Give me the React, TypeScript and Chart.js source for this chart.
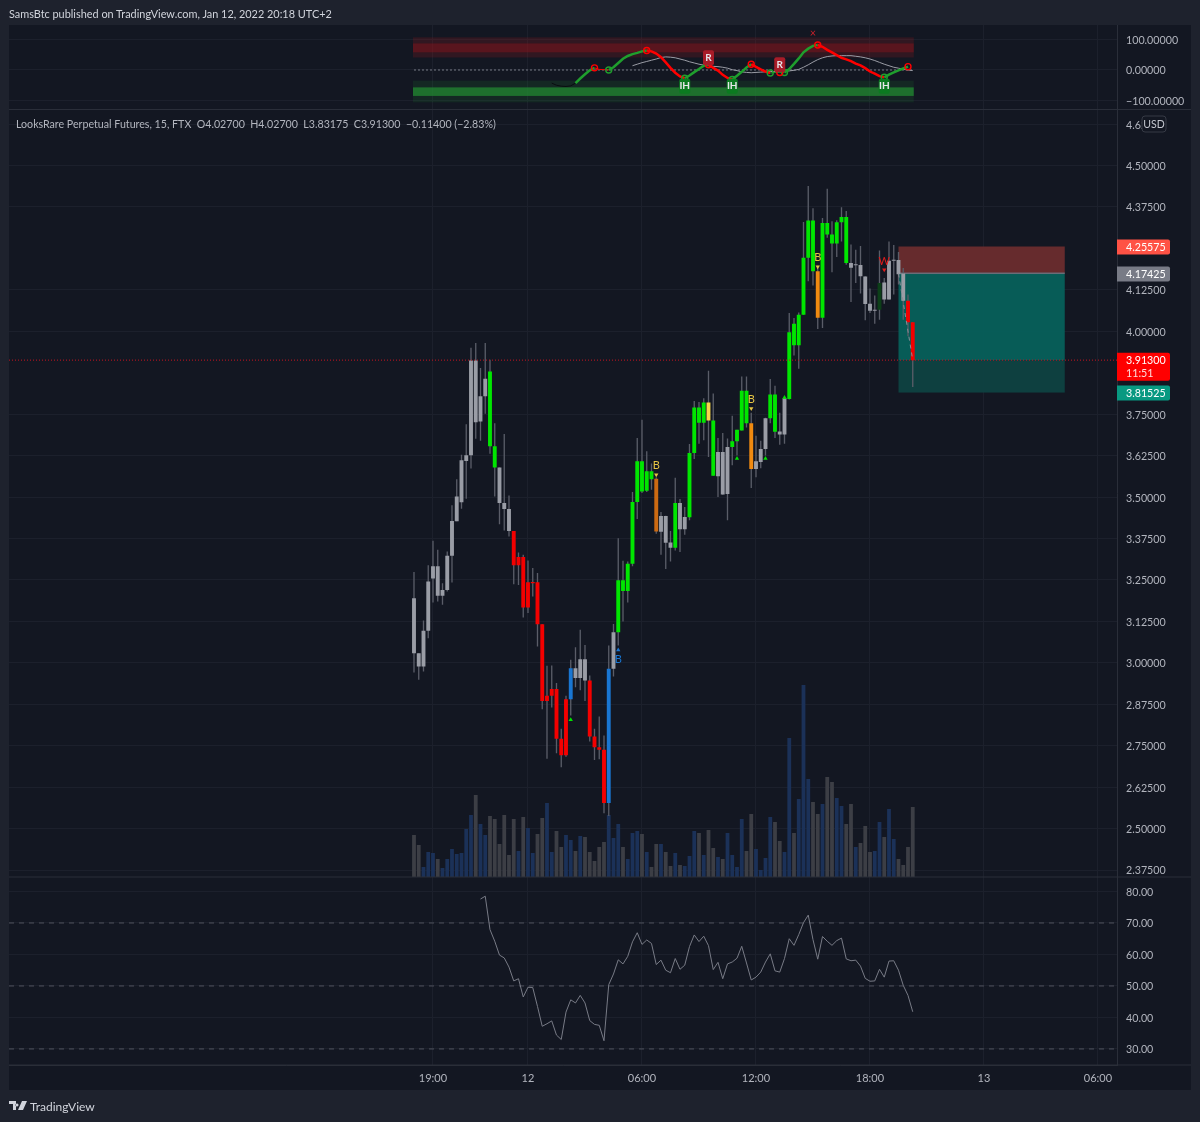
import { useEffect, useRef } from 'react';
import { Chart, Plugin, registerables } from 'chart.js';

Chart.register(...registerables);

const FONT = 'Lato, "Noto Sans", sans-serif';

// 15 minute bars, index 0 is the first candle
const opens = [3.195, 3.029, 2.989, 3.097, 3.254, 3.291, 3.202, 3.22, 3.323, 3.427, 3.484, 3.609, 3.626, 3.912, 3.728, 3.804, 3.879, 3.653, 3.589, 3.482, 3.464, 3.398, 3.294, 3.319, 3.167, 3.24, 3.243, 3.116, 2.885, 2.901, 2.921, 2.771, 2.721, 2.89, 2.984, 2.954, 3.011, 2.947, 2.778, 2.745, 2.738, 2.577, 2.982, 3.092, 3.249, 3.217, 3.299, 3.485, 3.608, 3.519, 3.578, 3.555, 3.395, 3.443, 3.363, 3.347, 3.482, 3.403, 3.439, 3.633, 3.77, 3.724, 3.785, 3.731, 3.563, 3.636, 3.509, 3.651, 3.668, 3.701, 3.821, 3.723, 3.585, 3.606, 3.645, 3.738, 3.809, 3.698, 3.689, 3.796, 4.023, 3.958, 4.05, 4.222, 4.334, 4.181, 4.041, 4.327, 4.292, 4.265, 4.329, 4.345, 4.206, 4.199, 4.2, 4.165, 4.083, 4.062, 4.065, 4.147, 4.096, 4.213, 4.215, 4.174, 4.092, 4.027];
const highs = [3.274, 3.029, 3.128, 3.294, 3.368, 3.341, 3.24, 3.336, 3.475, 3.554, 3.628, 3.72, 3.95, 3.965, 3.889, 3.965, 3.914, 3.723, 3.589, 3.69, 3.505, 3.398, 3.333, 3.326, 3.309, 3.286, 3.271, 3.116, 2.991, 2.992, 2.939, 2.801, 2.901, 3.009, 3.047, 3.1, 3.054, 2.962, 2.801, 2.838, 2.781, 3.052, 3.117, 3.376, 3.308, 3.306, 3.515, 3.678, 3.733, 3.638, 3.601, 3.56, 3.455, 3.444, 3.398, 3.558, 3.494, 3.47, 3.66, 3.79, 3.787, 3.798, 3.881, 3.812, 3.678, 3.693, 3.677, 3.745, 3.703, 3.864, 3.864, 3.754, 3.685, 3.67, 3.739, 3.856, 3.836, 3.754, 3.802, 4.055, 4.04, 4.057, 4.33, 4.438, 4.371, 4.198, 4.342, 4.43, 4.332, 4.335, 4.374, 4.363, 4.262, 4.246, 4.257, 4.166, 4.129, 4.108, 4.244, 4.161, 4.271, 4.26, 4.239, 4.191, 4.111, 4.027];
const lows = [2.971, 2.949, 2.974, 3.074, 3.182, 3.185, 3.175, 3.215, 3.242, 3.427, 3.465, 3.495, 3.586, 3.676, 3.67, 3.751, 3.631, 3.502, 3.418, 3.399, 3.381, 3.237, 3.235, 3.137, 3.15, 3.2, 3.049, 2.86, 2.711, 2.865, 2.727, 2.685, 2.717, 2.841, 2.926, 2.917, 2.885, 2.763, 2.707, 2.709, 2.546, 2.538, 2.959, 3.052, 3.125, 3.182, 3.291, 3.434, 3.512, 3.515, 3.522, 3.389, 3.326, 3.283, 3.306, 3.339, 3.334, 3.386, 3.43, 3.615, 3.661, 3.671, 3.621, 3.564, 3.5, 3.507, 3.43, 3.596, 3.625, 3.701, 3.71, 3.527, 3.56, 3.587, 3.625, 3.723, 3.678, 3.658, 3.661, 3.794, 3.927, 3.887, 4.05, 4.151, 4.138, 4.007, 4.01, 4.282, 4.178, 4.224, 4.271, 4.201, 4.088, 4.146, 4.114, 4.033, 4.055, 4.023, 4.035, 4.083, 4.096, 4.111, 4.141, 4.035, 3.985, 3.83175];
const closes = [3.029, 2.989, 3.097, 3.245, 3.291, 3.202, 3.22, 3.323, 3.428, 3.502, 3.611, 3.626, 3.912, 3.726, 3.804, 3.857, 3.653, 3.589, 3.482, 3.464, 3.398, 3.294, 3.319, 3.167, 3.243, 3.244, 3.116, 2.885, 2.901, 2.921, 2.771, 2.721, 2.89, 2.984, 2.954, 3.011, 2.947, 2.778, 2.745, 2.738, 2.577, 2.982, 3.092, 3.249, 3.217, 3.299, 3.485, 3.608, 3.517, 3.578, 3.554, 3.396, 3.443, 3.362, 3.347, 3.482, 3.403, 3.44, 3.633, 3.77, 3.724, 3.785, 3.731, 3.564, 3.636, 3.508, 3.651, 3.668, 3.703, 3.821, 3.723, 3.585, 3.608, 3.645, 3.738, 3.809, 3.697, 3.689, 3.798, 3.997, 3.958, 4.05, 4.222, 4.334, 4.181, 4.041, 4.327, 4.292, 4.265, 4.329, 4.345, 4.206, 4.192, 4.201, 4.166, 4.082, 4.062, 4.064, 4.146, 4.096, 4.213, 4.215, 4.172, 4.092, 4.027, 3.913];
const volumes = [42, 32, 10, 25, 24, 18, 9, 18, 28, 23, 24, 48, 62, 82, 53, 42, 61, 58, 33, 62, 22, 58, 26, 60, 49, 24, 43, 59, 74, 25, 46, 30, 42, 37, 26, 41, 40, 25, 16, 30, 35, 62, 39, 53, 30, 18, 44, 46, 43, 25, 10, 33, 33, 25, 11, 24, 12, 11, 21, 46, 44, 22, 47, 29, 20, 18, 44, 22, 10, 58, 26, 63, 28, 7, 19, 60, 55, 36, 25, 139, 44, 78, 192, 98, 75, 63, 73, 100, 95, 79, 71, 53, 73, 30, 34, 51, 25, 26, 55, 40, 68, 38, 18, 12, 30, 70];
// g gray, G green, R red, B blue, O orange, o dark orange, Y yellow, D dark green
const barKinds = 'ggggggggggggggggGGgggRRRRRRRRRRRRBgggRRRRBgGGGGGGGGogggGggGGGGYGgggGGGGOgggGGggGGGGGGOGGGGGGggggggDgggggRR';
const kindColors: Record<string, string> = {
  g: '#9a9da6', G: '#00e600', R: '#f40000', B: '#1976d2', O: '#f08a10', o: '#cc6a12', Y: '#f7d54a', D: '#0c3f18',
};

const rsiStart = 14;
const rsiValues = [77.6, 78.5, 67.9, 64.2, 59.8, 58.9, 56, 51.6, 52.3, 46.5, 49.6, 49.5, 43.5, 37.2, 38, 38.9, 34.4, 33, 41.7, 45.6, 44.6, 47, 44.6, 39, 37.8, 37.5, 32.6, 50.4, 53.8, 58.3, 57, 59.4, 64, 66.9, 63.2, 64.6, 63.5, 56.8, 58.2, 55, 54.2, 58.7, 55.3, 56.6, 62.5, 66.2, 64.1, 65.8, 62.8, 55.2, 57.5, 52.3, 57, 57.6, 58.8, 62.6, 57.3, 51.9, 52.8, 54.4, 57.6, 60.2, 54.8, 54.4, 58.7, 65, 62.9, 66.3, 70.1, 72.5, 64.7, 58.5, 65.7, 64.2, 62.9, 64.4, 65.2, 58.6, 58, 58.2, 56.3, 52.4, 51.5, 51.6, 55.3, 52.8, 57.9, 58, 55, 50.2, 47, 41.8];
const rsiLevels = [70, 50, 30];

const oscStart = 29;
const oscValues = [-43, -50, -53, -54, -52, -43, -28, -14, -1, 7, 2, 1, 0, 9, 23, 37, 46, 52, 56, 61, 64, 61, 54, 42, 25, 7, -9, -21, -27, -18, -7, 3, 14, 17, 7, -2, -16, -26, -31, -19, -6, 8, 19, 10, 2, -5, -10, -8, -8, -8, 3, 20, 38, 58, 70, 79, 82, 76, 66, 58, 49, 40, 35, 29, 21, 15, 6, -5, -12, -20, -24, -15, -8, -1, 5, 11];
const signalStart = 46;
const signalValues = [14, 19, 24, 28, 32, 36, 41, 43, 42, 40, 36, 32, 27, 23, 19, 16, 14, 12, 11, 9, 6, 1, -2, -6, -8, -9, -8, -7, -6, -5, -5, -5, -3, -3, -1, 2, 9, 17, 26, 34, 40, 44, 46, 47, 47, 47, 47, 45, 43, 40, 36, 31, 25, 19, 14, 9, 6, 2, 0, -2];
const pivotHighs = [38, 49, 62, 71, 77, 85, 104];
const pivotLows = [41, 57, 67, 75, 78, 99];
const oscBands = [
  { from: 41, to: 107, color: 'rgba(130,24,32,0.28)' },
  { from: 58, to: 87, color: 'rgba(130,20,28,0.5)' },
  { from: -106, to: -35, color: 'rgba(30,120,45,0.18)' },
  { from: -85, to: -57, color: 'rgba(34,140,50,0.72)' },
];
const oscTags = [
  { index: 62, value: 40, text: 'R', color: '#a81c28' },
  { index: 77, value: 17, text: 'R', color: '#a81c28' },
  { index: 57, value: -53, text: 'IH', color: '#0b7a20' },
  { index: 67, value: -53, text: 'IH', color: '#0b7a20' },
  { index: 99, value: -53, text: 'IH', color: '#0b7a20' },
];

const priceTicks = [2.375, 2.5, 2.625, 2.75, 2.875, 3, 3.125, 3.25, 3.375, 3.5, 3.625, 3.75, 4, 4.125, 4.375, 4.5, 4.625];
const rsiTicks = [30, 40, 50, 60, 70, 80];
const oscTicks = [-100, 0, 100];
const timeTickBars = [4, 24, 48, 72, 96, 120, 144];
const timeTickLabels = ['19:00', '12', '06:00', '12:00', '18:00', '13', '06:00'];

const positionBars = [102, 137];
const stopPrice = 4.25575;
const entryPrice = 4.17425;
const targetPrice = 3.81525;
const lastPrice = 3.913;
const barMin = -85.26;
const barMax = 148;

const downSignals = [
  { index: 51, price: 3.567, textPrice: 3.595, text: 'B', color: '#e6c544' },
  { index: 71, price: 3.767, textPrice: 3.794, text: 'B', color: '#e6c544' },
  { index: 85, price: 4.195, textPrice: 4.222, text: 'B', color: '#e6c544' },
  { index: 99, price: 4.186, textPrice: 4.21, text: 'W', color: '#e01b1b' },
];
const upSignals = [
  { index: 33, price: 2.828, color: '#00e600' },
  { index: 43, price: 3.039, color: '#1976d2' },
  { index: 68, price: 3.616, color: '#00e600' },
  { index: 74, price: 3.616, color: '#00e600' },
  { index: 78, price: 3.8, color: '#00e600' },
];

const priceTags = [
  { price: stopPrice, text: '4.25575', color: '#ff5245' },
  { price: entryPrice, text: '4.17425', color: '#787b86' },
  { price: targetPrice, text: '3.81525', color: '#089981' },
];

const lines = (start: number, values: number[]) => values.map((y, i) => ({ x: start + i, y }));

const panePlugin: Plugin = {
  id: 'panes',
  beforeDraw(chart) {
    const { ctx } = chart;
    ctx.fillStyle = '#131722';
    ctx.fillRect(9, 25, 1182, 1065);
  },
  beforeDatasetsDraw(chart) {
    const { ctx, scales } = chart;
    const { x, y, osc } = scales;
    // oscillator zones
    oscBands.forEach((b) => {
      ctx.fillStyle = b.color;
      const top = osc.getPixelForValue(b.to);
      ctx.fillRect(x.getPixelForValue(0) - 1, top, x.getPixelForValue(105) - x.getPixelForValue(0) + 2, osc.getPixelForValue(b.from) - top);
    });
    // long position box
    const left = x.getPixelForValue(positionBars[0]);
    const width = x.getPixelForValue(positionBars[1]) - left;
    const zones: [number, number, string][] = [
      [stopPrice, entryPrice, 'rgba(106,44,46,0.95)'],
      [entryPrice, lastPrice, 'rgba(6,96,91,0.95)'],
      [lastPrice, targetPrice, 'rgba(14,66,66,0.95)'],
    ];
    zones.forEach(([a, b, color]) => {
      ctx.fillStyle = color;
      ctx.fillRect(left, y.getPixelForValue(a), width, y.getPixelForValue(b) - y.getPixelForValue(a));
    });
    ctx.fillStyle = '#6a6d78';
    ctx.fillRect(left, y.getPixelForValue(entryPrice) - 1, width, 1.5);
  },
  afterDatasetsDraw(chart) {
    const { ctx, scales } = chart;
    const { x, y, osc, rsi } = scales;
    ctx.save();
    ctx.textAlign = 'center';
    ctx.textBaseline = 'middle';

    // pane separators
    ctx.fillStyle = '#2a2e39';
    [osc.bottom, y.bottom, rsi.bottom].forEach((py) => ctx.fillRect(9, py - 0.5, 1182, 1));

    oscTags.forEach((t) => {
      const px = x.getPixelForValue(t.index);
      const py = osc.getPixelForValue(t.value);
      ctx.fillStyle = t.color;
      ctx.beginPath();
      ctx.roundRect(px - 5.5, py - 7.5, 11, 15, 2);
      ctx.fill();
      ctx.fillStyle = '#e6e6ea';
      ctx.font = `bold 10px ${FONT}`;
      ctx.fillText(t.text, px, py);
    });
    ctx.fillStyle = '#c8202a';
    ctx.font = `11px ${FONT}`;
    ctx.fillText('×', x.getPixelForValue(84), osc.getPixelForValue(121));

    ctx.font = `11px ${FONT}`;
    downSignals.forEach((s) => {
      ctx.fillStyle = s.color;
      ctx.fillText(s.text, x.getPixelForValue(s.index), y.getPixelForValue(s.textPrice));
    });
    ctx.fillStyle = '#1976d2';
    ctx.fillText('B', x.getPixelForValue(43), y.getPixelForValue(3.009));

    // axis price tags
    ctx.textAlign = 'left';
    ctx.font = `10.7px ${FONT}`;
    const tagX = x.right;
    priceTags.forEach((t) => {
      const py = y.getPixelForValue(t.price) + 0.5;
      ctx.fillStyle = t.color;
      ctx.beginPath();
      ctx.roundRect(tagX, py - 7.5, 53, 15, [0, 2, 2, 0]);
      ctx.fill();
      ctx.fillStyle = '#ffffff';
      ctx.fillText(t.text, tagX + 9, py + 0.5);
    });
    const lastY = y.getPixelForValue(lastPrice);
    ctx.fillStyle = '#ff0000';
    ctx.beginPath();
    ctx.roundRect(tagX, lastY - 7.5, 53, 28, [0, 2, 2, 0]);
    ctx.fill();
    ctx.fillStyle = '#ffffff';
    ctx.fillText('3.91300', tagX + 9, lastY + 0.5);
    ctx.fillStyle = '#ffd9d9';
    ctx.fillText('11:51', tagX + 9, lastY + 13);

    // currency button over the top tick
    ctx.fillStyle = '#131722';
    ctx.strokeStyle = '#363a45';
    ctx.beginPath();
    ctx.roundRect(1142, 116, 24, 16, 3);
    ctx.fill();
    ctx.stroke();
    ctx.fillStyle = '#c3c6ce';
    ctx.textAlign = 'center';
    ctx.font = `10.5px ${FONT}`;
    ctx.fillText('USD', 1154, 124.5);
    ctx.restore();
  },
};

export default function App() {
  const canvasRef = useRef<HTMLCanvasElement>(null);

  useEffect(() => {
    if (!canvasRef.current) return;

    const indexes = opens.map((_, i) => i);
    const yAxis = (extra: object, weight: number, stackWeight: number, ticks: number[], digits: number) => ({
      type: 'linear' as const,
      position: 'right' as const,
      stack: 'panes',
      stackWeight,
      weight,
      afterFit: (s: any) => {
        s.width = 74;
      },
      afterBuildTicks: (s: any) => {
        s.ticks = ticks.map((value) => ({ value }));
      },
      grid: { color: '#1c202c', drawTicks: false },
      border: { color: '#2a2e39' },
      ticks: {
        autoSkip: false,
        color: '#b2b5be',
        font: { family: FONT, size: 10.7 },
        padding: 9,
        labelOffset: 1,
        crossAlign: 'near' as const,
        callback: (v: any) => {
          const n = Number(v);
          return (n < 0 ? '\u2212' : '') + Math.abs(n).toFixed(digits);
        },
      },
      ...extra,
    });

    const chart = new Chart(canvasRef.current, {
      type: 'bar',
      data: {
        datasets: [
          {
            label: 'Volume',
            yAxisID: 'vol',
            order: 9,
            grouped: false,
            categoryPercentage: 1,
            barPercentage: 0.8,
            backgroundColor: indexes.map((i) => (closes[i] >= opens[i] ? '#1b3158' : '#3c3e45')),
            data: indexes.map((i) => ({ x: i, y: volumes[i] })),
          },
          {
            label: 'Wicks',
            yAxisID: 'y',
            order: 8,
            grouped: false,
            categoryPercentage: 1,
            barPercentage: 0.28,
            backgroundColor: '#5a5d68',
            data: indexes.map((i) => ({ x: i, y: [lows[i], highs[i]] })),
          },
          {
            label: 'Bodies',
            yAxisID: 'y',
            order: 7,
            grouped: false,
            categoryPercentage: 1,
            barPercentage: 0.82,
            minBarLength: 1,
            backgroundColor: indexes.map((i) => kindColors[barKinds[i]]),
            data: indexes.map((i) => ({ x: i, y: [opens[i], closes[i]] })),
          },
          {
            type: 'line',
            label: 'Entry path',
            yAxisID: 'y',
            order: 6,
            borderColor: '#8a8d96',
            borderWidth: 1,
            borderDash: [4, 4],
            pointRadius: 0,
            data: [{ x: positionBars[0], y: entryPrice }, { x: 105, y: lastPrice }],
          },
          {
            type: 'line',
            label: 'Last price',
            yAxisID: 'y',
            order: 5,
            borderColor: '#c81420',
            borderWidth: 1,
            borderDash: [1, 2],
            pointRadius: 0,
            data: [{ x: barMin, y: lastPrice }, { x: barMax, y: lastPrice }],
          },
          {
            type: 'line',
            label: 'Down signals',
            yAxisID: 'y',
            order: 4,
            showLine: false,
            pointStyle: 'triangle',
            pointRotation: 180,
            pointRadius: 2.5,
            pointBorderWidth: 0,
            pointBackgroundColor: downSignals.map((s) => s.color),
            data: downSignals.map((s) => ({ x: s.index, y: s.price })),
          },
          {
            type: 'line',
            label: 'Up signals',
            yAxisID: 'y',
            order: 4,
            showLine: false,
            pointStyle: 'triangle',
            pointRadius: 2.5,
            pointBorderWidth: 0,
            pointBackgroundColor: upSignals.map((s) => s.color),
            data: upSignals.map((s) => ({ x: s.index, y: s.price })),
          },
          ...rsiLevels.map((level) => ({
            type: 'line' as const,
            label: `RSI ${level}`,
            yAxisID: 'rsi',
            order: 6,
            borderColor: '#4f525d',
            borderWidth: 1,
            borderDash: [5, 5],
            pointRadius: 0,
            data: [{ x: barMin, y: level }, { x: barMax, y: level }],
          })),
          {
            type: 'line',
            label: 'RSI',
            yAxisID: 'rsi',
            order: 3,
            borderColor: '#787b86',
            borderWidth: 1,
            pointRadius: 0,
            data: lines(rsiStart, rsiValues),
          },
          {
            type: 'line',
            label: 'Zero',
            yAxisID: 'osc',
            order: 6,
            borderColor: '#787b86',
            borderWidth: 1,
            borderDash: [2, 2],
            pointRadius: 0,
            data: [{ x: 0, y: 0 }, { x: 105, y: 0 }],
          },
          {
            type: 'line',
            label: 'Signal',
            yAxisID: 'osc',
            order: 3,
            borderColor: '#9a9ca5',
            borderWidth: 1,
            pointRadius: 0,
            data: lines(signalStart, signalValues),
          },
          {
            type: 'line',
            label: 'Oscillator',
            yAxisID: 'osc',
            order: 2,
            pointRadius: 0,
            borderWidth: 2.5,
            segment: {
              borderColor: (c: any) => {
                const at = oscStart + c.p0DataIndex;
                if (at < 34) return '#0a0c10';
                return c.p1.parsed.y >= c.p0.parsed.y ? '#1f9e2d' : '#ff0000';
              },
              borderWidth: (c: any) => {
                const at = oscStart + c.p0DataIndex;
                if (at < 34 || (at >= 38 && at < 41) || (at >= 75 && at < 78)) return 1;
                return 2.5;
              },
            },
            data: lines(oscStart, oscValues),
          },
          {
            type: 'line',
            label: 'Pivot highs',
            yAxisID: 'osc',
            order: 1,
            showLine: false,
            pointRadius: 3,
            pointBorderWidth: 1.4,
            pointBorderColor: '#ff0000',
            pointBackgroundColor: 'transparent',
            data: pivotHighs.map((i) => ({ x: i, y: oscValues[i - oscStart] })),
          },
          {
            type: 'line',
            label: 'Pivot lows',
            yAxisID: 'osc',
            order: 1,
            showLine: false,
            pointRadius: 3,
            pointBorderWidth: 1.4,
            pointBorderColor: '#1f9e2d',
            pointBackgroundColor: 'transparent',
            data: pivotLows.map((i) => ({ x: i, y: oscValues[i - oscStart] })),
          },
        ] as any,
      },
      options: {
        animation: false,
        responsive: false,
        events: [],
        layout: { padding: { left: 9, right: 9, top: 25, bottom: 32 } },
        plugins: { legend: { display: false }, tooltip: { enabled: false } },
        scales: {
          x: {
            type: 'linear',
            offset: false,
            min: barMin,
            max: barMax,
            afterFit: (s: any) => {
              s.height = 25;
            },
            afterBuildTicks: (s: any) => {
              s.ticks = timeTickBars.map((value) => ({ value }));
            },
            grid: { offset: false, color: '#1c202c', drawTicks: false },
            border: { color: '#2a2e39' },
            ticks: {
              autoSkip: false,
              maxRotation: 0,
              color: '#b2b5be',
              font: { family: FONT, size: 11 },
              padding: 7,
              callback: (v: any) => timeTickLabels[timeTickBars.indexOf(Number(v))],
            },
          },
          osc: yAxis({ min: -129.5, max: 147.5 }, 1, 84.5, oscTicks, 5),
          y: yAxis({ min: 2.354, max: 4.669 }, 2, 767.5, priceTicks, 5),
          rsi: yAxis({ min: 24.9, max: 84.6 }, 3, 188, rsiTicks, 2),
          // volume overlay: zero sits on the bottom edge of the price pane
          vol: { type: 'linear', display: false, position: 'right', min: -188, max: 852 },
        } as any,
      },
      plugins: [panePlugin],
    });

    return () => {
      chart.destroy();
    };
  }, []);

  const text = { position: 'absolute' as const, fontFamily: FONT, whiteSpace: 'pre' as const };

  return (
    <div style={{ position: 'absolute', left: 0, top: 0, width: 1200, height: 1122, background: '#1e222d', overflow: 'hidden' }}>
      <canvas ref={canvasRef} width={1200} height={1122} style={{ display: 'block' }} />
      <div style={{ ...text, left: 9, top: 7, fontSize: 10.9, color: '#d1d4dc' }}>
        SamsBtc published on TradingView.com, Jan 12, 2022 20:18 UTC+2
      </div>
      <div style={{ ...text, left: 16, top: 117, fontSize: 10.65, color: '#b2b5be' }}>
        LooksRare Perpetual Futures, 15, FTX  O4.02700  H4.02700  L3.83175  C3.91300  −0.11400 (−2.83%)
      </div>
      <svg style={{ position: 'absolute', left: 9, top: 1100 }} width={18} height={12} viewBox="0 0 18 12">
        <path d="M0 1h7v9H4V4H0z M8 3.5a1.5 1.5 0 1 0 .01 0z M13 1h5l-4 9H9z" fill="#d1d4dc" />
      </svg>
      <div style={{ ...text, left: 30, top: 1099, fontSize: 12, color: '#d1d4dc' }}>TradingView</div>
    </div>
  );
}
